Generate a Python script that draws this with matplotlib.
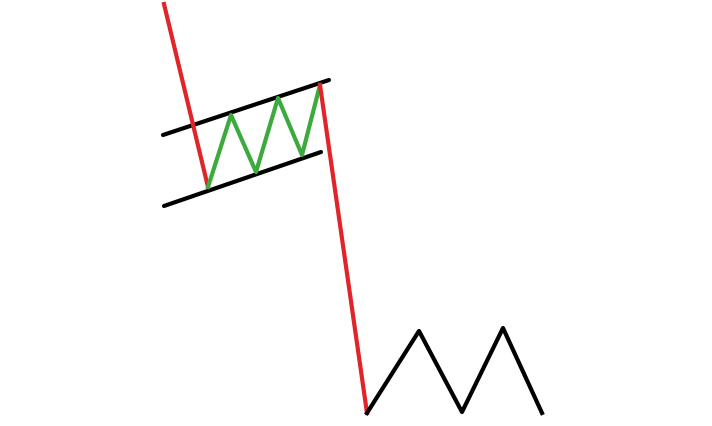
import matplotlib
matplotlib.use("Agg")
import matplotlib.pyplot as plt

# Pattern points (x, y in chart units, y downward)
impulse_x = [164, 208]
impulse_y = [5, 188]
flag_x = [208, 231, 256, 278, 302, 320]
flag_y = [188, 116, 173, 99, 156, 86]
drop_x = [320, 367]
drop_y = [86, 414]
after_x = [367, 419, 462, 503, 542]
after_y = [414, 332, 413, 329, 414]
upper_x = [163, 329]
upper_y = [136, 81]
lower_x = [164, 321]
lower_y = [207, 153]

fig = plt.figure(figsize=(7.12, 4.27), dpi=100)
ax = fig.add_axes([0, 0, 1, 1])
ax.set_xlim(0, 712)
ax.set_ylim(427, 0)
ax.axis("off")

red = "#e0242a"
green = "#3caa3c"
lw = 3.0
ax.plot(upper_x, upper_y, color="black", lw=lw, solid_capstyle="round", zorder=2)
ax.plot(lower_x, lower_y, color="black", lw=lw, solid_capstyle="round", zorder=2)
ax.plot(impulse_x, impulse_y, color=red, lw=lw, zorder=3)
ax.plot(flag_x, flag_y, color=green, lw=lw, zorder=3)
ax.plot(drop_x, drop_y, color=red, lw=lw, zorder=3)
ax.plot(after_x, after_y, color="black", lw=lw, zorder=3)

fig.savefig("out.png", dpi=100, facecolor="white")
